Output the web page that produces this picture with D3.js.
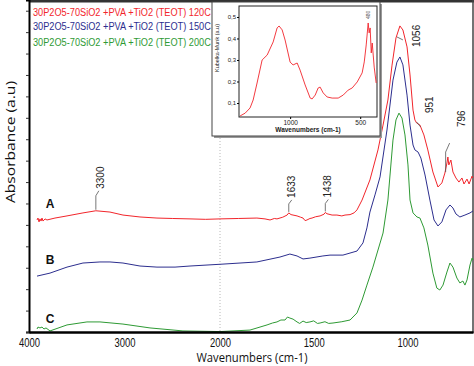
<!DOCTYPE html>
<html>
<head>
<meta charset="utf-8">
<script src="https://cdn.jsdelivr.net/npm/d3@7/dist/d3.min.js"></script>
<style>
  html, body { margin: 0; padding: 0; background: #fff; }
  svg { display: block; }
</style>
</head>
<body>
<script>
// spectra: [wavenumber, absorbance a.u.]
var seriesA = [
  [3916,0.523],[3906,0.532],[3895,0.514],[3885,0.528],[3874,0.518],[3864,0.532],[3853,0.518],[3832,0.528],[3812,0.523],
  [3728,0.532],[3602,0.542],[3435,0.556],[3300,0.566],[3152,0.560],[3016,0.546],[2838,0.537],[2660,0.532],
  [2500,0.530],[2314,0.528],[2150,0.526],[2000,0.528],[1900,0.530],[1803,0.532],[1760,0.528],[1733,0.523],
  [1710,0.530],[1696,0.528],[1665,0.536],[1642,0.546],[1633,0.556],[1621,0.548],[1589,0.542],[1570,0.536],
  [1557,0.532],[1546,0.520],[1536,0.523],[1520,0.530],[1509,0.532],[1490,0.538],[1466,0.542],[1445,0.550],
  [1438,0.558],[1429,0.552],[1402,0.546],[1376,0.546],[1350,0.542],[1333,0.546],[1306,0.548],[1285,0.556],
  [1269,0.570],[1242,0.616],[1200,0.710],[1157,0.850],[1130,0.966],[1104,1.083],[1082,1.246],[1061,1.373],
  [1040,1.429],[1024,1.410],[1002,1.331],[986,1.200],[970,1.036],[960,0.990],[951,0.976],[933,0.966],
  [912,0.920],[891,0.850],[864,0.747],[837,0.677],[816,0.696],[800,0.742],[789,0.789],[784,0.817],
  [779,0.780],[768,0.803],[757,0.747],[741,0.719],[725,0.700],[709,0.719],[698,0.691],[682,0.714],
  [671,0.691],[655,0.728],[650,0.719]
];
var seriesB = [
  [3916,0.261],[3780,0.275],[3602,0.303],[3435,0.322],[3257,0.327],[3152,0.327],[3016,0.322],[2838,0.308],
  [2660,0.303],[2471,0.303],[2314,0.308],[1984,0.317],[1803,0.327],[1680,0.350],[1627,0.364],[1589,0.355],
  [1557,0.341],[1520,0.345],[1451,0.355],[1413,0.359],[1344,0.359],[1269,0.378],[1237,0.416],[1216,0.486],
  [1200,0.560],[1173,0.640],[1146,0.724],[1109,0.943],[1077,1.176],[1056,1.260],[1040,1.284],[1024,1.247],
  [1002,1.106],[986,0.966],[970,0.873],[960,0.850],[943,0.840],[928,0.812],[906,0.733],[880,0.616],
  [858,0.523],[837,0.495],[816,0.514],[794,0.570],[773,0.593],[757,0.579],[741,0.551],[720,0.537],
  [693,0.546],[666,0.556],[650,0.565]
];
var seriesC = [
  [3916,0.014],[3906,0.023],[3885,0.019],[3864,0.023],[3843,0.014],[3822,0.019],[3780,0.005],[3602,0.033],
  [3393,0.047],[3257,0.047],[3016,0.037],[2733,0.019],[2388,0.005],[2000,0.002],[1840,0.009],[1749,0.033],
  [1720,0.042],[1696,0.047],[1675,0.056],[1653,0.056],[1640,0.070],[1627,0.065],[1610,0.060],[1589,0.047],
  [1575,0.040],[1557,0.051],[1540,0.044],[1520,0.047],[1500,0.052],[1480,0.040],[1466,0.042],[1440,0.048],
  [1420,0.040],[1397,0.042],[1350,0.048],[1306,0.056],[1269,0.089],[1242,0.149],[1216,0.219],[1184,0.303],
  [1130,0.462],[1104,0.616],[1077,0.896],[1061,0.990],[1045,1.022],[1029,0.999],[1013,0.920],[997,0.780],
  [986,0.616],[970,0.556],[949,0.537],[933,0.532],[912,0.486],[891,0.406],[864,0.275],[843,0.205],
  [827,0.196],[810,0.219],[789,0.280],[773,0.322],[757,0.303],[736,0.252],[720,0.229],[704,0.238],
  [693,0.219],[682,0.243],[666,0.313],[655,0.345],[650,0.336]
];
var insetKM = [
  [1357,0.040],[1321,0.053],[1286,0.077],[1264,0.114],[1236,0.193],[1200,0.300],[1164,0.323],[1121,0.384],
  [1093,0.449],[1079,0.458],[1057,0.440],[1036,0.393],[1000,0.290],[979,0.277],[950,0.286],[929,0.253],
  [893,0.184],[857,0.123],[843,0.119],[821,0.137],[800,0.170],[786,0.174],[764,0.147],[736,0.128],
  [700,0.123],[657,0.123],[621,0.137],[586,0.160],[557,0.170],[521,0.198],[486,0.240],[471,0.291],
  [457,0.370],[443,0.472],[436,0.426],[429,0.449],[421,0.333],[414,0.379],[407,0.323],[400,0.267],[386,0.193]
];

var legendLabels = [
  "30P2O5-70SiO2 +PVA +TiO2 (TEOT) 120C",
  "30P2O5-70SiO2 +PVA +TiO2 (TEOT) 150C",
  "30P2O5-70SiO2 +PVA +TiO2 (TEOT) 200C"
];
var curveLetters = ["A", "B", "C"];
var xTicks = [4000, 3000, 2000, 1500, 1000];
var yTicks = [0,0.1,0.2,0.3,0.4,0.5,0.6,0.7,0.8,0.9,1.0,1.1,1.2,1.3,1.4,1.5];
var insetYTicks = [0.1, 0.2, 0.3, 0.4, 0.5];
var insetXTicks = [1000, 500];
// peak marks on curve A
var peakMarks = [3300, 1633, 1438, 1056, 951, 796];

var colors = ["#f2252b", "#2c2e8e", "#2e9a34"];
var width = 474, height = 366;

var svg = d3.select("body").append("svg")
    .attr("width", width)
    .attr("height", height);

// piecewise axis: 4000-2000 compressed, 2000-650 expanded
var x = d3.scaleLinear().domain([4000, 2000, 650]).range([29, 220, 473]);
var y = d3.scaleLinear().domain([0, 1.55]).range([332, 0]);

// dotted line at 2000
svg.append("line")
    .attr("x1", x(2000)).attr("x2", x(2000))
    .attr("y1", 3).attr("y2", 332)
    .attr("stroke", "#b8b8b8").attr("stroke-dasharray", "1,2");

// frame
svg.append("line").attr("x1", 29).attr("x2", 474).attr("y1", 1).attr("y2", 1)
    .attr("stroke", "#333").attr("stroke-width", 3);
svg.append("line").attr("x1", 473).attr("x2", 473).attr("y1", 0).attr("y2", 333)
    .attr("stroke", "#444").attr("stroke-width", 1.5);

var line = d3.line().x(d => x(d[0])).y(d => y(d[1]));

[seriesA, seriesB, seriesC].forEach(function(s, i) {
  svg.append("path")
      .datum(s)
      .attr("d", line)
      .attr("fill", "none")
      .attr("stroke", colors[i])
      .attr("stroke-width", 1);
});

// axes
var yAxis = svg.append("g")
    .attr("transform", "translate(29,0)")
    .call(d3.axisLeft(y).tickValues(yTicks).tickSize(3).tickFormat(""));
yAxis.select(".domain").attr("stroke", "#000").attr("stroke-width", 2);
yAxis.selectAll(".tick line").attr("stroke", "#333");

var xAxis = svg.append("g")
    .attr("transform", "translate(0,332)")
    .call(d3.axisBottom(x).tickValues(xTicks).tickSize(0).tickPadding(6).tickFormat(d3.format("d")));
xAxis.select(".domain").attr("stroke", "#000").attr("stroke-width", 2.5);
xAxis.selectAll(".tick text")
    .attr("font-family", "Liberation Sans, Arial, sans-serif")
    .attr("font-size", 12)
    .attr("fill", "#111")
    .attr("textLength", 21)
    .attr("lengthAdjust", "spacingAndGlyphs");

svg.append("text")
    .attr("x", 252).attr("y", 362)
    .attr("text-anchor", "middle")
    .attr("font-family", "Open Sans, sans-serif")
    .attr("font-size", 13)
    .attr("textLength", 111).attr("lengthAdjust", "spacingAndGlyphs")
    .attr("fill", "#111")
    .text("Wavenumbers (cm-1)");

svg.append("text")
    .attr("transform", "translate(15,142) rotate(-90)")
    .attr("text-anchor", "middle")
    .attr("font-family", "Open Sans, sans-serif")
    .attr("font-size", 13)
    .attr("textLength", 122).attr("lengthAdjust", "spacingAndGlyphs")
    .attr("fill", "#111")
    .text("Absorbance (a.u)");

// legend (narrow type, squeezed horizontally)
var legendY = [16, 30, 46];
legendLabels.forEach(function(t, i) {
  svg.append("text")
      .attr("transform", "translate(33," + legendY[i] + ") scale(0.8,1)")
      .attr("font-family", "Liberation Sans, Arial, sans-serif")
      .attr("font-size", 11.5)
      .attr("fill", colors[i])
      .text(t);
});

// curve letters
var letterY = [208, 264, 323];
curveLetters.forEach(function(t, i) {
  svg.append("text")
      .attr("x", 50).attr("y", letterY[i])
      .attr("text-anchor", "middle")
      .attr("font-family", "Liberation Sans, Arial, sans-serif")
      .attr("font-weight", "bold")
      .attr("font-size", 12)
      .attr("fill", "#111")
      .text(t);
});

// peak annotations on curve A
function valueAt(s, wn) {
  var best = s[0];
  s.forEach(function(p) { if (Math.abs(p[0] - wn) < Math.abs(best[0] - wn)) best = p; });
  return best[1];
}
// leader shape: vertical rise, kink dx/dy, label dx
var markStyle = {
  3300: {rise: 14, kx: 3, ky: 5, lx: 10},
  1633: {rise: 8, kx: 3, ky: 4, lx: 8},
  1438: {rise: 8, kx: 3, ky: 4, lx: 8},
  1056: {rise: 0, kx: 6, ky: -3, lx: 20},
  951:  {rise: 0, kx: 4, ky: -5, lx: 16},
  796:  {rise: 20, kx: 4, ky: 9, lx: 17}
};
peakMarks.forEach(function(wn) {
  var st = markStyle[wn];
  var px = x(wn), py = y(valueAt(seriesA, wn)) - 1;
  var topY = py - st.rise;
  svg.append("path")
      .attr("d", "M" + px + "," + py + "L" + px + "," + topY + "L" + (px + st.kx) + "," + (topY - st.ky))
      .attr("fill", "none").attr("stroke", "#555").attr("stroke-width", 0.8);
  var tx = px + st.lx - 2, ty = topY - st.ky - 2;
  if (wn === 1056) { tx = 420; ty = 47; }
  if (wn === 951) { tx = 433; ty = 113; }
  if (wn === 796) { tx = 465; ty = 127; }
  svg.append("text")
      .attr("transform", "translate(" + tx + "," + ty + ") rotate(-90)")
      .attr("font-family", "Liberation Sans, Arial, sans-serif")
      .attr("font-size", 10)
      .attr("fill", "#222")
      .text(wn);
});

// ---- inset ----
var inset = svg.append("g");
inset.append("rect")
    .attr("x", 214).attr("y", 4).attr("width", 168).attr("height", 134)
    .attr("fill", "#999");
inset.append("rect")
    .attr("x", 212).attr("y", 2).attr("width", 168).attr("height", 134)
    .attr("fill", "#fff").attr("stroke", "#444").attr("stroke-width", 1);

var ix = d3.scaleLinear().domain([1365, 380]).range([239, 377]);
var iy = d3.scaleLinear().domain([0.035, 0.551]).range([117, 6]);

inset.append("rect")
    .attr("x", 239).attr("y", 6).attr("width", 138).attr("height", 111)
    .attr("fill", "none").attr("stroke", "#222").attr("stroke-width", 1);

var iLine = d3.line().x(d => ix(d[0])).y(d => iy(d[1]));
inset.append("path")
    .datum(insetKM)
    .attr("d", iLine)
    .attr("fill", "none")
    .attr("stroke", "#f2252b")
    .attr("stroke-width", 0.9);

var iyAxis = inset.append("g")
    .attr("transform", "translate(239,0)")
    .call(d3.axisLeft(iy).tickValues(insetYTicks).tickSize(2).tickPadding(1)
      .tickFormat(d => d.toFixed(1).replace(".", ",")));
iyAxis.select(".domain").remove();
iyAxis.selectAll("text").attr("font-size", 6).attr("font-family", "Liberation Sans, Arial, sans-serif").attr("fill", "#222");

var ixAxis = inset.append("g")
    .attr("transform", "translate(0,117)")
    .call(d3.axisBottom(ix).tickValues(insetXTicks).tickSize(2).tickPadding(1).tickFormat(d3.format("d")));
ixAxis.select(".domain").remove();
ixAxis.selectAll("text").attr("font-size", 6.5).attr("font-family", "Liberation Sans, Arial, sans-serif").attr("fill", "#222");

inset.append("text")
    .attr("x", 308).attr("y", 132)
    .attr("text-anchor", "middle")
    .attr("font-family", "Liberation Sans, Arial, sans-serif")
    .attr("font-size", 6.5).attr("font-weight", "bold")
    .attr("fill", "#222")
    .text("Wavenumbers (cm-1)");

inset.append("text")
    .attr("transform", "translate(219,48) rotate(-90)")
    .attr("text-anchor", "middle")
    .attr("font-family", "Liberation Sans, Arial, sans-serif")
    .attr("font-size", 5.5)
    .attr("fill", "#222")
    .text("Kubelka-Munk (a.u)");

inset.append("text")
    .attr("transform", "translate(" + (ix(443) + 2) + ",19) rotate(-90)")
    .attr("font-family", "Liberation Sans, Arial, sans-serif")
    .attr("font-size", 5)
    .attr("fill", "#555")
    .text("480");
</script>
</body>
</html>
